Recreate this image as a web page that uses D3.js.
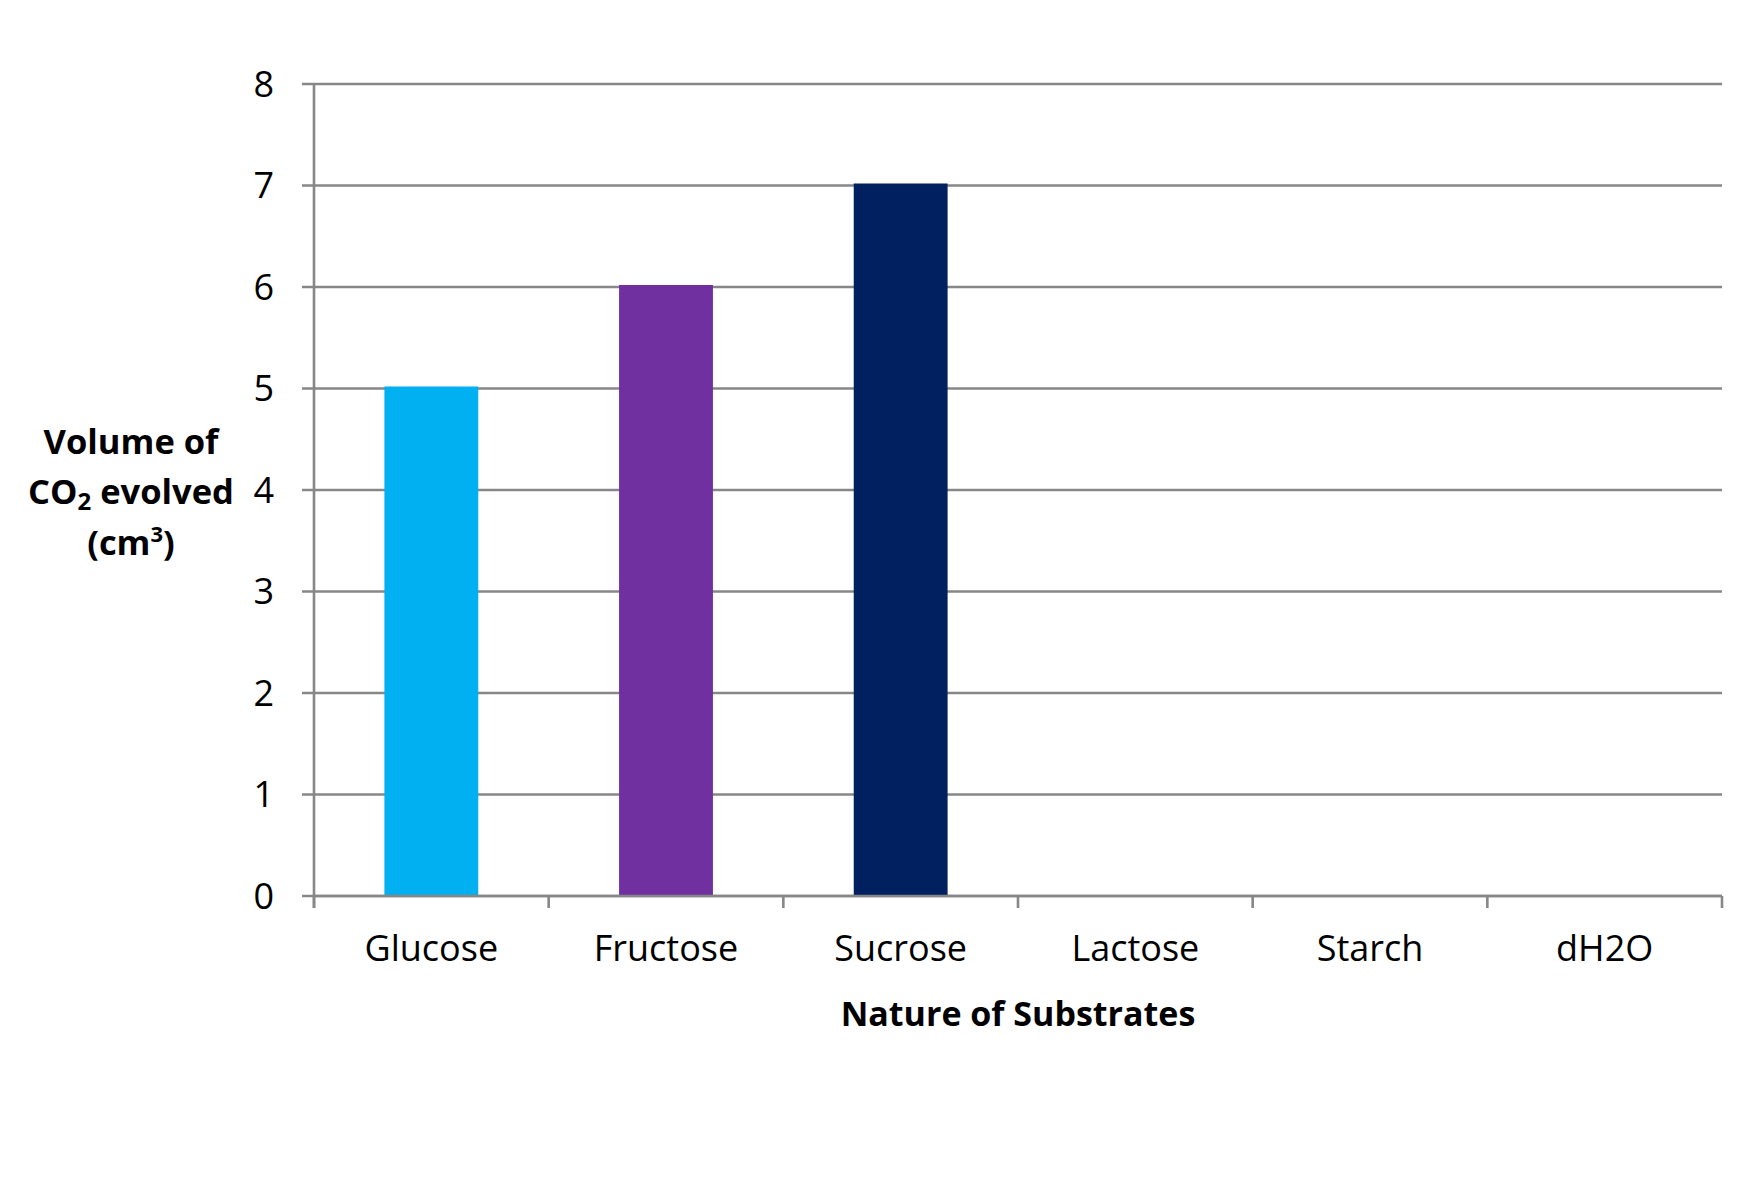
<!DOCTYPE html>
<html>
<head>
<meta charset="utf-8">
<script src="https://cdn.jsdelivr.net/npm/d3@7"></script>
<style>
  body { margin: 0; background: #fff; }
  svg text { font-family: "Open Sans", "Noto Sans", sans-serif; fill: #000; }
</style>
</head>
<body>
<div id="chart"></div>
<script>
// data
const substrates = ["Glucose", "Fructose", "Sucrose", "Lactose", "Starch", "dH2O"];
const co2Volume = [5, 6, 7, null, null, null];
const barColors = ["#00B0F0", "#7030A0", "#002060", "#00B0F0", "#00B0F0", "#00B0F0"];
const yTicks = [0, 1, 2, 3, 4, 5, 6, 7, 8];

const W = 1737, H = 1183;
const margin = { left: 314, right: W - 1722, top: 84, bottom: H - 896 };

const svg = d3.select("#chart").append("svg").attr("width", W).attr("height", H);

const x = d3.scaleBand().domain(substrates)
  .range([margin.left, W - margin.right]).paddingInner(0.6).paddingOuter(0.3);
const xEdge = d3.scalePoint().domain(d3.range(substrates.length + 1))
  .range([margin.left, W - margin.right]);
const y = d3.scaleLinear().domain([0, 8]).range([H - margin.bottom, margin.top]);

const gridCol = "#878787";

// gridlines + y ticks
svg.append("g").selectAll("line").data(yTicks).join("line")
  .attr("x1", margin.left - 12).attr("x2", W - margin.right)
  .attr("y1", d => y(d)).attr("y2", d => y(d))
  .attr("stroke", gridCol).attr("stroke-width", 2.6);

svg.append("g").selectAll("text").data(yTicks).join("text")
  .attr("x", 274).attr("y", d => y(d)).attr("dy", "0.36em")
  .attr("text-anchor", "end").attr("font-size", 36).text(d => d);

// bars
svg.append("g").selectAll("rect")
  .data(substrates.map((s, i) => ({ s, v: co2Volume[i], c: barColors[i] })).filter(d => d.v != null))
  .join("rect")
  .attr("x", d => x(d.s)).attr("width", x.bandwidth())
  .attr("y", d => y(d.v) - 2).attr("height", d => y(0) - y(d.v) + 2)
  .attr("fill", d => d.c);

// axes lines
svg.append("line")
  .attr("x1", margin.left).attr("x2", margin.left)
  .attr("y1", y(8) - 1).attr("y2", y(0) + 12)
  .attr("stroke", gridCol).attr("stroke-width", 2.6);
svg.append("line")
  .attr("x1", margin.left).attr("x2", W - margin.right)
  .attr("y1", y(0)).attr("y2", y(0))
  .attr("stroke", gridCol).attr("stroke-width", 2.6);
svg.append("g").selectAll("line").data(xEdge.domain()).join("line")
  .attr("x1", d => xEdge(d)).attr("x2", d => xEdge(d))
  .attr("y1", y(0)).attr("y2", y(0) + 12)
  .attr("stroke", gridCol).attr("stroke-width", 2.6);

// category labels
svg.append("g").selectAll("text").data(substrates).join("text")
  .attr("x", d => x(d) + x.bandwidth() / 2).attr("y", 961)
  .attr("text-anchor", "middle").attr("font-size", 36).text(d => d);

// axis titles
svg.append("text").attr("x", 1018).attr("y", 1026)
  .attr("text-anchor", "middle").attr("font-size", 34).attr("font-weight", "bold")
  .text("Nature of Substrates");

const yt = svg.append("text").attr("text-anchor", "middle")
  .attr("font-size", 34.5).attr("font-weight", "bold");
yt.append("tspan").attr("x", 131).attr("y", 454).text("Volume of");
const l2 = yt.append("tspan").attr("x", 131).attr("y", 504);
l2.append("tspan").text("CO");
l2.append("tspan").attr("font-size", 24).attr("dy", 6).text("2");
l2.append("tspan").attr("dy", -6).text(" evolved");
const l3 = yt.append("tspan").attr("x", 131).attr("y", 555);
l3.append("tspan").text("(cm");
l3.append("tspan").attr("font-size", 22).attr("dy", -13).text("3");
l3.append("tspan").attr("dy", 13).text(")");
</script>
</body>
</html>
